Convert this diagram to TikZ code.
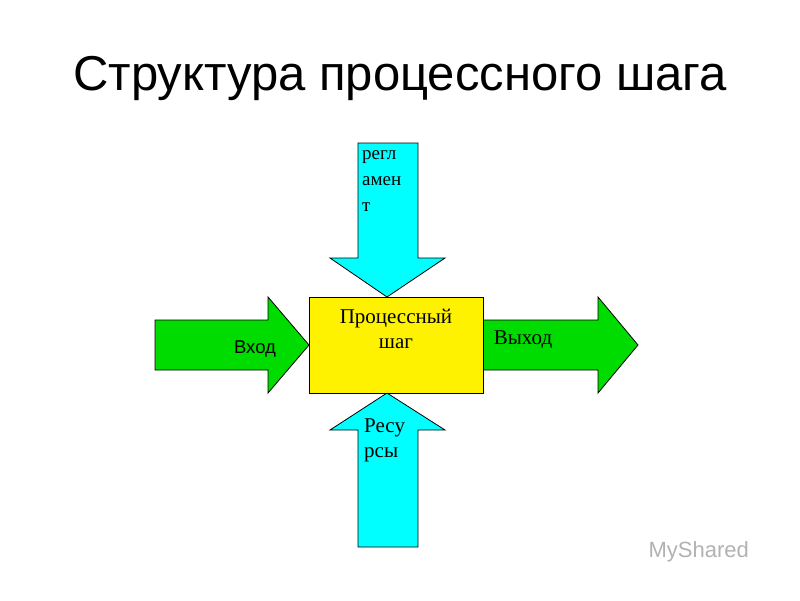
\documentclass[tikz,border=0pt]{standalone}
\usepackage{fontspec}
\setmainfont{Liberation Serif}
\newfontfamily\arialf{Liberation Sans}
\definecolor{ggreen}{RGB}{0,220,0}
\definecolor{ccyan}{RGB}{0,255,255}
\begin{document}
\begin{tikzpicture}[x=1pt,y=-1pt,
  arr/.style={draw=black,line width=0.8pt,line join=miter},
  lbl/.style={font=\fontsize{21}{25}\selectfont,align=left,inner sep=0pt}]
\useasboundingbox (0,0) rectangle (800,600);
\fill[white] (0,0) rectangle (800,600);
\node[font=\arialf\fontsize{49}{60}\selectfont] (title) at (400,78) {Структура процессного шага};
% left arrow
\filldraw[arr,fill=ggreen] (155,320) -- (268,320) -- (268,297) -- (309,345) -- (268,393) -- (268,370) -- (155,370) -- cycle;
% right arrow
\filldraw[arr,fill=ggreen] (483,320) -- (598,320) -- (598,297) -- (638,345) -- (598,393) -- (598,370) -- (483,370) -- cycle;
% top arrow
\filldraw[arr,fill=ccyan] (358,143) -- (418,143) -- (418,258) -- (445,258) -- (387,297) -- (330,258) -- (358,258) -- cycle;
% bottom arrow
\filldraw[arr,fill=ccyan] (358,547) -- (418,547) -- (418,430) -- (445,430) -- (387,393) -- (330,430) -- (358,430) -- cycle;
% box
\node[draw=black,line width=0.8pt,fill=yellow,minimum width=174pt,minimum height=96pt,inner sep=0pt] (box) at (396,345) {};
\node[lbl,align=center,anchor=north] (proc) at (396,309) {Процессный\\шаг};
\node[font=\arialf\fontsize{18.5}{20}\selectfont] (in) at (255,349) {Вход};
\node[lbl] (out) at (523,340) {Выход};
\node[lbl,anchor=north west,font=\fontsize{19}{26}\selectfont] (regl) at (362,150) {регл\\амен\\т};
\node[lbl,anchor=north west] (res) at (364,419) {Ресу\\рсы};
\node[font=\arialf\fontsize{22}{26}\selectfont,text=gray!60,anchor=west] (logo) at (645,552) {MyShared};
\end{tikzpicture}
\end{document}
